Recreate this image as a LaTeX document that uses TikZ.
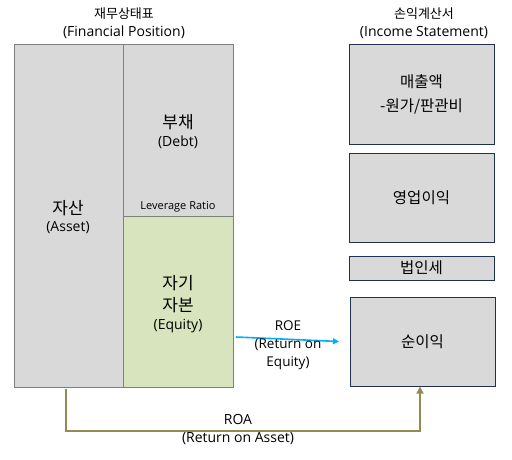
\documentclass[tikz,border=0pt]{standalone}
\usepackage{fontspec}
\setmainfont{Open Sans}
\newfontfamily\kr{Noto Sans CJK KR}
\usetikzlibrary{arrows.meta}
\definecolor{boxgray}{HTML}{D9D9D9}
\definecolor{eqgreen}{HTML}{D7E4BD}
\definecolor{bordgray}{HTML}{7F7F7F}
\definecolor{navy}{HTML}{1F3050}
\definecolor{olive}{HTML}{948A54}
\definecolor{cyanblue}{HTML}{00B0F0}
\begin{document}
\begin{tikzpicture}[x=1pt,y=-1pt,
  bsbox/.style={draw=bordgray,fill=boxgray,line width=0.9pt,inner sep=0pt},
  eqbox/.style={draw=bordgray,fill=eqgreen,line width=0.9pt,inner sep=0pt},
  isbox/.style={draw=navy,fill=boxgray,line width=1pt,inner sep=0pt},
  lbl/.style={align=center,inner sep=0pt,font=\fontsize{14}{18}\selectfont},
  big/.style={font=\kr\fontsize{17}{22}\selectfont},
  mid/.style={font=\kr\fontsize{15.5}{24}\selectfont}]
\useasboundingbox (0,0) rectangle (512,459);
% titles
\node[lbl] (t1) at (124,23) {{\kr\fontsize{13}{18}\selectfont 재무상태표}\\(Financial Position)};
\node[lbl] (t2) at (424,23) {{\kr\fontsize{13}{18}\selectfont 손익계산서}\\(Income Statement)};
% balance sheet
\path[bsbox] (14,44) rectangle (123,387);
\path[bsbox] (123,44) rectangle (233,216);
\path[eqbox] (123,216) rectangle (233,387);
\node[inner sep=0pt,big] (ja) at (68,208) {자산};
\node[lbl] (jaE) at (68,228) {(Asset)};
\node[inner sep=0pt,big] (bu) at (178,122) {부채};
\node[lbl] (buE) at (178,142) {(Debt)};
\node[inner sep=0pt,font=\fontsize{11}{13}\selectfont] (lev) at (178,207) {Leverage Ratio};
\node[inner sep=0pt,big,align=center] (eq) at (178,294) {자기\\자본};
\node[lbl] (eqE) at (178,326) {(Equity)};
% income statement
\node[isbox,mid,minimum width=145pt,minimum height=100pt,align=center] (rev) at (421.5,94) {매출액\\-원가/판관비};
\node[isbox,mid,minimum width=145pt,minimum height=89pt] (op) at (421.5,197.5) {영업이익};
\node[isbox,mid,minimum width=145pt,minimum height=24pt] (tax) at (421.5,268) {법인세};
\node[isbox,mid,minimum width=145pt,minimum height=89pt] (ni) at (422.5,341.5) {순이익};
% ROE
\coordinate (roeS) at (236,337);
\draw[cyanblue,line width=1.6pt,-{Triangle[length=6pt,width=6pt]}] (roeS) -- (ni.west -| 339,337);
\node[lbl,font=\fontsize{13.5}{18}\selectfont] (roe) at (288,345) {ROE\\(Return on\\Equity)};
% ROA
\coordinate (roaS) at (66,389);
\draw[olive,line width=1.6pt,-{Triangle[length=7pt,width=7pt]}] (roaS) -- (66,431) -- (420,431) -- (ni.south -| 420,390);
\node[lbl] (roa) at (238,429.5) {ROA\\(Return on Asset)};
\end{tikzpicture}
\end{document}
